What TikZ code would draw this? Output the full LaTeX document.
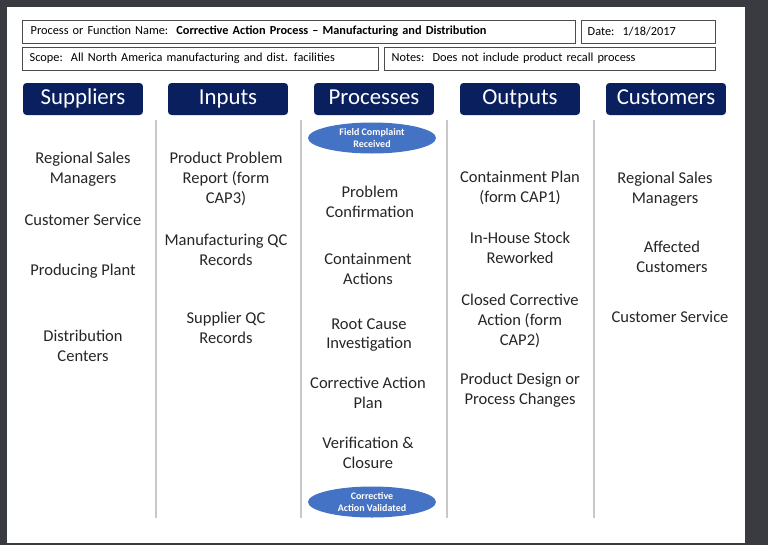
\documentclass[tikz,border=0pt]{standalone}
\usepackage{fontspec}
\setmainfont{Carlito}
\usetikzlibrary{shapes.geometric}
\definecolor{PageDark}{RGB}{57, 59, 64}
\definecolor{SipocNavy}{RGB}{10, 32, 94}
\definecolor{SipocBlue}{RGB}{68, 114, 196}
\definecolor{RuleGray}{RGB}{200, 200, 200}

\begin{document}
\begin{tikzpicture}[x=0.02cm, y=-0.02cm,
    infobox/.style={draw=black!70, line width=0.5pt, anchor=west, minimum height=0.46cm, inner sep=0pt, font=\fontsize{7}{8}\selectfont},
    header/.style={fill=SipocNavy, text=white, rounded corners=2pt, minimum width=2.4cm, minimum height=0.64cm, inner sep=0pt, text height=9pt, text depth=2.5pt, font=\fontsize{13}{14}\selectfont},
    item/.style={align=center, font=\fontsize{9.4}{11.3}\selectfont, text=black!85},
    event/.style={ellipse, fill=SipocBlue, text=white, minimum width=2.56cm, minimum height=0.62cm, inner sep=0pt, align=center, font=\bfseries\fontsize{5.7}{7}\selectfont}]
    % page and background
    \fill[PageDark] (0,0) rectangle (768,545);
    \fill[white] (7,7) rectangle (745,543);

    % top information boxes
    \node[infobox, minimum width=11.06cm, text width=10.8cm] (title) at (22,31.5) {\hspace*{1pt}Process or Function Name:\ \ \textbf{Corrective Action Process -- Manufacturing and Distribution}};
    \node[infobox, minimum width=2.68cm, text width=2.5cm] (date) at (581,31.5) {\hspace*{1pt}Date:\ \ 1/18/2017};
    \node[infobox, minimum width=7.12cm, text width=6.9cm] (scope) at (22,58.5) {\hspace*{1pt}Scope:\ \ All North America manufacturing and dist. facilities};
    \node[infobox, minimum width=6.62cm, text width=6.4cm] (notes) at (384,58.5) {\hspace*{1pt}Notes:\ \ Does not include product recall process};

    % column headers
    \node[header] (suppliers) at (83,99) {Suppliers};
    \node[header] (inputs) at (228,99) {Inputs};
    \node[header] (processes) at (374,99) {Processes};
    \node[header] (outputs) at (520,99) {Outputs};
    \node[header] (customers) at (666,99) {Customers};

    % column separators
    \foreach \x in {156, 301, 447, 594}
        \draw[RuleGray, line width=1pt] (\x,120) -- (\x,518);

    % suppliers
    \node[item] (sup1) at (83,169) {Regional Sales\\Managers};
    \node[item] (sup2) at (83,220) {Customer Service};
    \node[item] (sup3) at (83,271) {Producing Plant};
    \node[item] (sup4) at (83,346) {Distribution\\Centers};

    % inputs
    \node[item] (in1) at (226,179) {Product Problem\\Report (form\\CAP3)};
    \node[item] (in2) at (226,250) {Manufacturing QC\\Records};
    \node[item] (in3) at (226,328) {Supplier QC\\Records};

    % processes
    \node[event] (start) at (372,138) {Field Complaint\\Received};
    \node[item] (proc1) at (370,202) {Problem\\Confirmation};
    \node[item] (proc2) at (368,269) {Containment\\Actions};
    \node[item] (proc3) at (369,335) {Root Cause\\Investigation};
    \node[item] (proc4) at (368,393) {Corrective Action\\Plan};
    \node[item] (proc5) at (368,453) {Verification \&\\Closure};
    \node[event] (stop) at (372,502) {Corrective\\Action Validated};

    % outputs
    \node[item] (out1) at (520,188) {Containment Plan\\(form CAP1)};
    \node[item] (out2) at (520,248) {In-House Stock\\Reworked};
    \node[item] (out3) at (520,321) {Closed Corrective\\Action (form\\CAP2)};
    \node[item] (out4) at (520,390) {Product Design or\\Process Changes};

    % customers
    \node[item] (cus1) at (665,189) {Regional Sales\\Managers};
    \node[item] (cus2) at (672,257) {Affected\\Customers};
    \node[item] (cus3) at (670,317) {Customer Service};
\end{tikzpicture}
\end{document}
